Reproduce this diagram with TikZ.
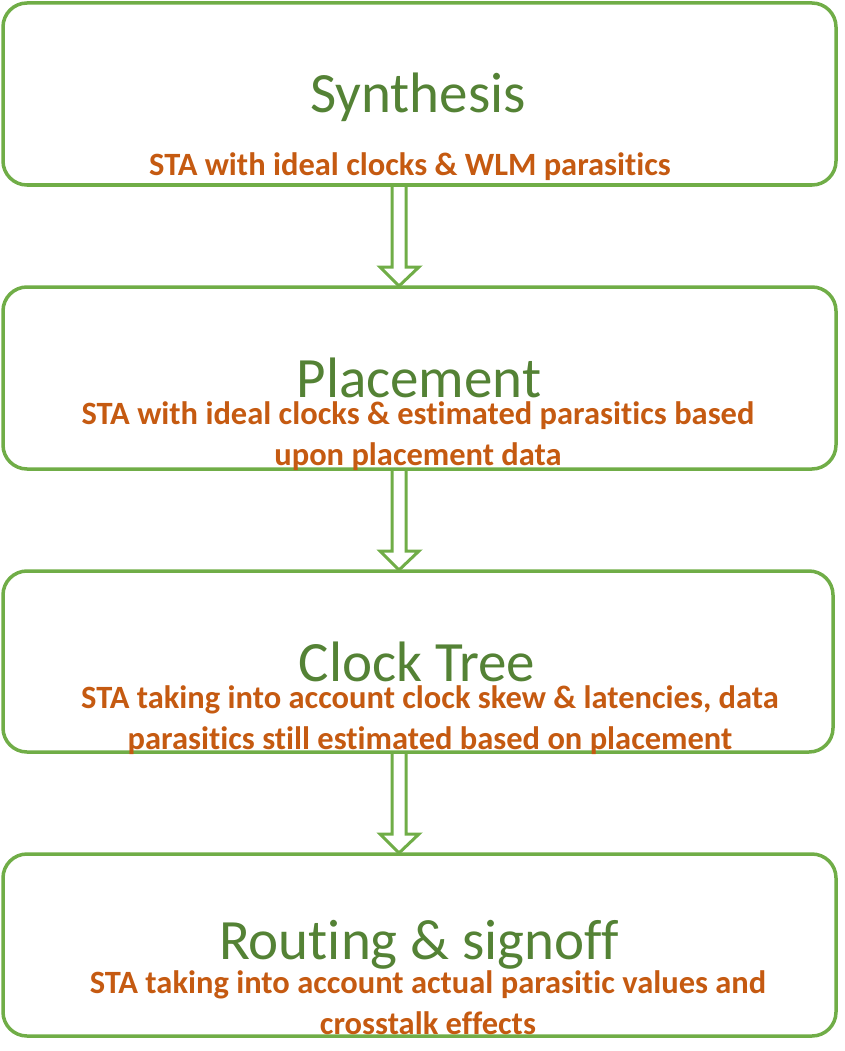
\documentclass[tikz,border=0pt]{standalone}
\usepackage{fontspec}
\setmainfont{Carlito}[Ligatures=NoCommon]
\definecolor{boxg}{HTML}{70AD47}
\definecolor{titg}{HTML}{548235}
\definecolor{suborg}{HTML}{C55A11}
\begin{document}
\begin{tikzpicture}[x=1pt,y=-1pt,
  stage/.style={draw=boxg,line width=3.5pt,rounded corners=24pt},
  ttl/.style={text=titg,font=\fontsize{57}{60}\selectfont,inner sep=0pt},
  sub/.style={text=suborg,font=\fontsize{32.5}{41}\selectfont\bfseries,align=center,inner sep=0pt},
  harrow/.style={draw=boxg,line width=3pt,fill=white}]
\useasboundingbox (0,0) rectangle (845,1051);
\draw[stage] (3,3) rectangle (836,185);
\draw[stage] (3,287) rectangle (836,469);
\draw[stage] (3,571) rectangle (833,752);
\draw[stage] (3,854) rectangle (836,1036);
\foreach \a/\b in {185/287,469/571,752/854}{
  \draw[harrow] (392,\a+2) -- (392,\b-20) -- (380,\b-20) -- (399,\b-1) -- (419,\b-20) -- (406,\b-20) -- (406,\a+2);
}
\node[ttl] (t1) at (418,97) {Synthesis};
\node[sub] (s1) at (410,167) {STA with ideal clocks \& WLM parasitics};
\node[ttl] (t2) at (419,378) {Placement};
\node[sub] (s2) at (418,436) {STA with ideal clocks \& estimated parasitics based\\upon placement data};
\node[ttl] (t3) at (417,662) {Clock Tree};
\node[sub] (s3) at (430,720) {STA taking into account clock skew \& latencies, data\\parasitics still estimated based on placement};
\node[ttl] (t4) at (419,945) {Routing \& signoff};
\node[sub] (s4) at (428,1003) {STA taking into account actual parasitic values and\\crosstalk effects};
\end{tikzpicture}
\end{document}
